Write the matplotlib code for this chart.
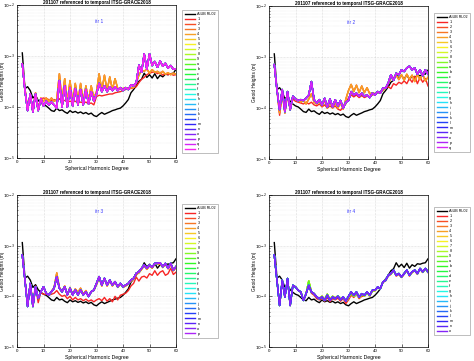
import numpy as np
import matplotlib
matplotlib.use("Agg")
import matplotlib.pyplot as plt
from matplotlib.colors import hsv_to_rgb

plt.rcParams['font.family'] = ['Liberation Sans', 'DejaVu Sans']

# ---------------- data (geoid heights in units of 1e-4 m), degrees 2..60 ----------------
degrees = list(range(2, 61))
UNIT = 1e-4

aiub_rl02 = [11.5, 2.3, 2.5, 2.1, 1.5, 1.7, 1.35, 1.2, 1.1, 1.05, 0.95, 0.85, 0.82, 0.95, 0.85,
             0.88, 0.8, 0.75, 0.85, 0.78, 0.82, 0.76, 0.8, 0.74, 0.78, 0.72, 0.76, 0.68, 0.65, 0.72,
             0.78, 0.72, 0.76, 0.8, 0.85, 0.88, 0.92, 0.95, 1.05, 1.2, 1.4, 1.9, 2.2, 2.6, 3.2,
             3.5, 4.6, 3.8, 4.3, 3.7, 4.5, 3.6, 4.2, 3.9, 4.4, 4.3, 4.5, 4.6, 5.5]

# panel 1 (itr 1)
p1_red = [7.0, 2.3, 0.9, 1.7, 0.9, 1.8, 1.0, 1.45, 1.5, 1.45, 1.4, 1.35, 1.4, 1.3, 1.45,
          1.3, 1.35, 1.25, 1.3, 1.25, 1.3, 1.2, 1.25, 1.2, 1.25, 1.15, 1.2, 1.1, 1.6, 1.7,
          1.65, 1.7, 1.75, 1.8, 1.8, 1.9, 1.95, 2.0, 2.1, 2.2, 2.3, 2.3, 2.4, 2.5, 3.0,
          3.5, 3.8, 4.3, 4.6, 4.8, 4.9, 4.5, 4.8, 4.2, 4.5, 4.3, 4.5, 4.2, 4.3]
p1_orange = [7.0, 2.3, 0.9, 1.7, 0.85, 1.9, 0.9, 1.5, 1.3, 1.5, 1.3, 1.5, 1.3, 1.4, 4.5,
             1.3, 3.6, 1.25, 3.3, 1.25, 2.9, 1.3, 2.9, 1.3, 2.6, 1.35, 2.6, 1.5, 2.0, 4.5,
             2.1, 4.2, 2.1, 3.9, 2.2, 3.6, 2.3, 2.3, 2.3, 2.4, 2.3, 2.4, 2.4, 3.0, 4.2,
             5.2, 5.0, 5.6, 4.6, 5.4, 4.8, 5.0, 4.5, 5.0, 4.4, 4.7, 4.3, 4.6, 4.4]
p1_rest = [7.0, 2.1, 0.85, 1.8, 0.8, 1.8, 0.85, 1.45, 1.05, 1.3, 1.1, 1.25, 1.1, 0.95, 3.3,
           1.0, 2.6, 1.0, 2.4, 1.05, 2.3, 1.1, 2.2, 1.1, 2.2, 1.15, 2.0, 1.3, 1.8, 2.9,
           2.0, 2.6, 2.0, 2.5, 2.1, 2.5, 2.1, 2.4, 2.1, 2.4, 2.2, 2.7, 2.6, 3.0, 6.6,
           4.8, 11.0, 5.5, 11.0, 6.5, 7.8, 6.0, 8.0, 6.3, 7.2, 5.8, 6.5, 5.5, 5.6]

# panel 2 (itr 2)
p2_red = [7.1, 2.2, 0.72, 1.9, 0.8, 1.8, 0.95, 1.5, 1.35, 1.3, 1.25, 1.2, 1.3, 1.2, 1.3,
          1.15, 1.1, 1.2, 1.05, 1.15, 1.0, 1.1, 1.0, 1.1, 0.95, 0.9, 1.05, 1.2, 1.6, 1.8,
          1.65, 1.8, 1.6, 1.75, 1.6, 1.7, 1.65, 1.8, 1.9, 2.0, 2.1, 2.3, 2.5, 2.6, 2.4,
          3.0, 2.8, 3.2, 3.0, 3.4, 3.0, 3.8, 3.2, 4.2, 3.0, 4.0, 3.2, 3.8, 2.7]
p2_orange = [7.1, 2.3, 0.8, 2.0, 0.8, 2.0, 0.9, 1.6, 1.5, 1.45, 1.3, 1.4, 1.2, 1.5, 1.9,
             1.3, 1.2, 1.35, 1.1, 1.4, 1.0, 1.35, 1.0, 1.3, 1.0, 1.25, 0.95, 1.5, 2.2, 2.9,
             2.1, 2.8, 2.0, 2.7, 2.0, 2.5, 1.9, 2.0, 1.9, 2.0, 2.0, 2.2, 2.5, 3.0, 3.8,
             3.9, 4.4, 3.6, 4.5, 3.5, 4.6, 3.7, 4.4, 3.3, 4.5, 3.6, 4.6, 3.4, 4.0]
p2_rest = [7.1, 2.3, 0.93, 2.3, 0.85, 2.1, 0.93, 1.7, 1.5, 1.4, 1.46, 1.4, 1.55, 1.8, 3.3,
           1.46, 1.25, 1.46, 1.15, 1.55, 1.05, 1.5, 1.05, 1.45, 1.1, 1.4, 1.0, 1.3, 1.4, 2.1,
           1.8, 1.95, 1.7, 1.95, 1.7, 1.8, 1.6, 1.95, 1.8, 2.1, 1.95, 2.45, 2.45, 3.1, 4.5,
           3.5, 4.8, 4.5, 5.6, 5.2, 6.1, 6.6, 5.6, 6.1, 4.6, 5.6, 4.3, 5.6, 4.6]

# panel 3 (itr 3)
p3_red = [6.5, 2.1, 0.7, 1.7, 0.8, 1.6, 0.75, 1.2, 1.1, 1.1, 1.05, 1.1, 1.15, 1.3, 1.1,
          1.0, 1.05, 0.9, 1.0, 0.85, 0.95, 0.85, 0.9, 0.82, 0.88, 0.8, 0.85, 0.78, 0.85, 0.9,
          0.82, 0.95, 0.8, 0.9, 0.78, 1.0, 0.85, 1.05, 1.1, 1.15, 1.3, 1.6, 1.8, 2.4, 2.0,
          2.4, 2.5, 2.3, 2.8, 2.6, 3.2, 2.6, 3.0, 3.2, 2.6, 2.8, 3.6, 2.7, 3.0]
p3_mid = [6.5, 2.1, 0.65, 1.8, 0.65, 1.55, 0.9, 1.25, 1.5, 1.15, 1.1, 1.25, 1.5, 2.9, 1.5,
          1.25, 1.6, 1.1, 1.5, 1.1, 1.4, 1.2, 1.45, 1.1, 1.3, 1.0, 1.25, 1.3, 1.7, 2.3,
          1.6, 2.2, 1.6, 2.0, 1.6, 1.9, 1.5, 1.75, 1.5, 1.6, 1.75, 2.0, 2.2, 2.7, 2.9,
          3.4, 4.0, 3.4, 4.0, 3.6, 4.3, 4.3, 4.4, 3.7, 4.3, 3.5, 4.3, 3.2, 3.7]
p3_rest = [6.5, 2.1, 0.63, 1.8, 0.63, 1.55, 0.91, 1.23, 1.55, 1.15, 1.07, 1.23, 1.44, 2.45, 1.44,
           1.23, 1.55, 1.07, 1.44, 1.07, 1.33, 1.07, 1.33, 1.07, 1.23, 0.99, 1.23, 1.33, 1.8, 2.45,
           1.67, 2.27, 1.67, 2.1, 1.67, 1.95, 1.55, 1.8, 1.55, 1.67, 1.8, 2.1, 2.27, 2.85, 3.07,
           3.57, 4.15, 3.57, 4.15, 3.73, 4.47, 4.47, 4.6, 3.85, 4.47, 3.57, 4.47, 3.3, 3.85]

# panel 4 (itr 4)
p4_red = [6.5, 2.08, 0.66, 2.0, 0.97, 2.2, 0.66, 1.6, 1.5, 1.3, 1.2, 0.83, 1.1, 1.6, 1.15,
          1.05, 0.9, 0.85, 0.9, 0.8, 0.95, 0.78, 0.9, 0.85, 0.92, 0.8, 0.9, 0.72, 0.85, 1.05,
          0.95, 1.1, 0.9, 1.0, 1.0, 1.15, 1.0, 1.25, 1.3, 1.5, 1.4, 1.9, 2.0, 2.5, 2.7,
          3.2, 2.5, 2.7, 2.35, 2.7, 3.2, 2.5, 2.95, 3.2, 2.7, 3.45, 2.95, 3.45, 2.95]
p4_mid = [6.5, 2.08, 0.66, 2.08, 0.97, 2.25, 0.66, 1.65, 1.53, 1.32, 1.22, 0.83, 1.13, 2.0, 1.22,
          1.13, 0.97, 0.9, 1.0, 0.86, 1.1, 0.86, 1.0, 0.92, 1.02, 0.88, 0.97, 0.8, 0.95, 1.15,
          1.0, 1.15, 0.95, 1.08, 1.02, 1.18, 1.03, 1.3, 1.3, 1.5, 1.42, 1.93, 2.08, 2.6, 2.8,
          3.25, 2.6, 2.8, 2.4, 2.8, 3.25, 2.6, 3.0, 3.25, 2.8, 3.5, 3.0, 3.5, 3.0]
p4_rest = [6.5, 2.08, 0.66, 2.08, 0.97, 2.25, 0.66, 1.65, 1.53, 1.32, 1.22, 0.83, 1.13, 1.65, 1.22,
           1.13, 0.97, 0.9, 0.97, 0.83, 1.05, 0.83, 0.97, 0.9, 1.0, 0.86, 0.97, 0.81, 1.0, 1.22,
           1.05, 1.22, 0.97, 1.13, 1.05, 1.22, 1.05, 1.32, 1.32, 1.53, 1.42, 1.93, 2.08, 2.61, 2.82,
           3.29, 2.61, 2.82, 2.42, 2.82, 3.29, 2.61, 3.05, 3.29, 2.82, 3.55, 3.05, 3.55, 3.05]

series_labels = list('123456789abcdefghijklmnopqr')
n_series = [27, 26, 25, 24]
itr_labels = ['itr 1', 'itr 2', 'itr 3', 'itr 4']
title_text = '201107 referenced to temporal ITSG-GRACE2018'
ref_label = 'AIUB RL02'

# which curve each series follows (series are drawn in order; later ones on top)
panel_groups = [
    [p1_red] + [p1_orange] * 3 + [p1_rest] * 23,
    [p2_red] + [p2_orange] * 3 + [p2_rest] * 22,
    [p3_red] + [p3_mid] * 3 + [p3_rest] * 21,
    [p4_red] + [p4_mid] * 9 + [p4_rest] * 14,
]

# ---------------- layout (pixels of a 474x361 figure) ----------------
W, H = 474, 361
axes_px = [(17, 5, 176, 158), (269, 6, 428, 159), (17, 195, 176, 347), (269, 195, 428, 347)]

fig = plt.figure(figsize=(W / 100, H / 100), dpi=100)
fig.patch.set_facecolor('white')


def series_color(i):
    return hsv_to_rgb((i / 31.0, 0.85, 0.97))


for k in range(4):
    l, t, r, b = axes_px[k]
    ax = fig.add_axes([l / W, 1 - b / H, (r - l) / W, (b - t) / H])
    x = np.array(degrees)
    ax.plot(x, np.array(aiub_rl02) * UNIT, color='black', lw=1.0, label=ref_label)
    for i in range(n_series[k]):
        ax.plot(x, np.array(panel_groups[k][i]) * UNIT, color=series_color(i), lw=1.0,
                label=series_labels[i])
    ax.set_yscale('log')
    ax.set_xlim(0, 60)
    ax.set_ylim(1e-5, 1e-2)
    ax.set_xticks(range(0, 61, 10))
    ax.set_yticks([1e-5, 1e-4, 1e-3, 1e-2])
    ax.set_yticklabels([r'$10^{-5}$', r'$10^{-4}$', r'$10^{-3}$', r'$10^{-2}$'])
    ax.tick_params(which='both', direction='in', labelsize=3.2, pad=1.5, width=0.4)
    ax.tick_params(which='major', length=2)
    ax.tick_params(which='minor', length=1)
    ax.grid(True, which='major', ls=':', lw=0.4, color='0.75')
    ax.grid(True, which='minor', axis='y', ls=':', lw=0.3, color='0.85')
    for s in ax.spines.values():
        s.set_linewidth(0.5)
    ax.set_title(title_text, fontsize=3.3, fontweight='bold', pad=1.0)
    ax.set_xlabel('Spherical Harmonic Degree', fontsize=3.7, labelpad=1.5)
    ax.set_ylabel('Geoid Heights (m)', fontsize=3.4)
    ax.yaxis.set_label_coords(-0.075, 0.5)
    ax.text(31, 4.7e-3, itr_labels[k], color='#3a3aff', fontsize=3.4, ha='center', va='center')
    leg = ax.legend(loc='center left', bbox_to_anchor=(1.04, 0.5), fontsize=2.7,
                    handlelength=2.8, labelspacing=0.27, borderpad=0.6, handletextpad=0.6,
                    frameon=True, fancybox=False, edgecolor='0.55', borderaxespad=0)
    leg.get_frame().set_linewidth(0.5)

fig.savefig('out.png', dpi=100)
